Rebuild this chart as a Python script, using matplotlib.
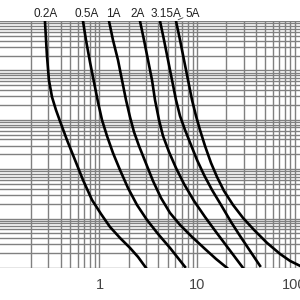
import numpy as np
import matplotlib
matplotlib.use("Agg")
import matplotlib.pyplot as plt
from matplotlib.ticker import LogLocator, FixedLocator, FixedFormatter, NullFormatter

# fuse time-current curves: current (A) vs pre-arcing time (s)
ratings = ["0.2A", "0.5A", "1A", "2A", "3.15A", "5A"]

current_02 = [0.276, 0.289, 0.303, 0.326, 0.358, 0.393, 0.464, 0.561, 0.677,
              0.838, 1.036, 1.281, 1.623, 2.055, 2.483, 3.0]
time_02    = [100, 20.5, 6.39, 2.89, 1.579, 0.946, 0.390, 0.1535, 0.0605,
              0.0238, 0.0124, 0.00676, 0.00405, 0.00254, 0.00167, 0.001]

current_05 = [0.677, 0.727, 0.799, 0.878, 0.965, 1.061, 1.194, 1.375, 1.623,
              1.960, 2.424, 3.069, 3.981, 5.286, 7.533]
time_05    = [100, 41.2, 14.8, 5.82, 2.29, 0.991, 0.470, 0.2128, 0.0963,
              0.0416, 0.01885, 0.00937, 0.00488, 0.00254, 0.00105]

current_1 = [1.252, 1.375, 1.548, 1.701, 1.870, 2.055, 2.259, 2.542, 2.929,
             3.538, 4.274, 5.286, 6.695, 8.887, 12.08, 15.66, 20.31]
time_1    = [100, 41.2, 16.2, 6.39, 2.52, 1.139, 0.566, 0.2948, 0.1466,
             0.0577, 0.0261, 0.01298, 0.00742, 0.00424, 0.00242, 0.00152, 0.001]

current_2 = [2.602, 2.860, 3.144, 3.456, 3.709, 4.077, 4.481, 5.163, 6.089,
             7.356, 9.317, 12.08, 15.66, 20.79, 29.64]
time_2    = [100, 41.2, 16.2, 6.39, 2.52, 0.991, 0.470, 0.2229, 0.1057,
             0.0502, 0.0227, 0.01077, 0.00535, 0.00254, 0.001]

current_315 = [4.174, 4.587, 5.042, 5.541, 6.089, 6.695, 7.533, 8.679, 10.0,
               11.80, 14.25, 17.63, 22.32, 27.61, 34.96, 44.28]
time_315    = [100, 41.2, 16.2, 6.39, 2.52, 1.194, 0.6217, 0.309, 0.1535,
               0.0763, 0.0379, 0.01885, 0.00853, 0.00444, 0.00221, 0.0011]

current_5 = [6.089, 6.695, 7.356, 8.087, 8.887, 9.766, 10.73, 12.08, 13.92,
             16.04, 18.92, 23.40, 29.64, 38.43, 52.23, 71.02, 89.91, 113.9]
time_5    = [100, 41.2, 16.2, 6.39, 2.52, 1.194, 0.6217, 0.2948, 0.1335,
             0.0695, 0.0362, 0.01885, 0.01028, 0.00588, 0.00321, 0.00192,
             0.001386, 0.0011]

curves = [(current_02, time_02), (current_05, time_05), (current_1, time_1),
          (current_2, time_2), (current_315, time_315), (current_5, time_5)]

label_x = [0.283, 0.745, 1.37, 2.48, 4.81, 9.1]

x_ticks = [1, 10, 100]
x_tick_labels = ["1", "10", "100"]

fig = plt.figure(figsize=(3, 3), dpi=100)
ax = fig.add_axes([0, 0.107, 1, 0.823])
ax.set_xscale("log")
ax.set_yscale("log")
ax.set_xlim(10 ** -1.02, 10 ** 2.056)
ax.set_ylim(0.001, 100)

ax.xaxis.set_major_locator(FixedLocator(x_ticks))
ax.xaxis.set_major_formatter(FixedFormatter(x_tick_labels))
ax.xaxis.set_minor_locator(LogLocator(base=10, subs=np.arange(2, 10), numticks=100))
ax.xaxis.set_minor_formatter(NullFormatter())
ax.yaxis.set_major_locator(LogLocator(base=10, numticks=100))
ax.yaxis.set_minor_locator(LogLocator(base=10, subs=np.arange(2, 10), numticks=100))
ax.yaxis.set_major_formatter(NullFormatter())
ax.yaxis.set_minor_formatter(NullFormatter())

ax.grid(which="both", color="#808080", lw=1.0)
ax.set_axisbelow(True)
for s in ax.spines.values():
    s.set_visible(False)
ax.tick_params(which="both", length=0)
ax.tick_params(axis="x", pad=7, labelsize=10.5, labelcolor="#444444")
for lab in ax.get_xticklabels():
    lab.set_family("Liberation Sans")

for x, y in curves:
    ax.plot(x, y, color="black", lw=1.9, solid_joinstyle="round")

trans = ax.get_xaxis_transform()
for name, lx in zip(ratings[:-1], label_x[:-1]):
    ax.text(lx, 1.03, name, transform=trans, ha="center", va="center",
            fontsize=8.5, family="Liberation Sans", color="#222222")
ax.annotate(ratings[-1], xy=(6.4, 1.005), xycoords=trans,
            xytext=(label_x[-1], 1.03), textcoords=trans,
            ha="center", va="center", fontsize=8.5, family="Liberation Sans",
            color="#222222",
            arrowprops=dict(arrowstyle="-", lw=0.6, color="#444444",
                            shrinkA=0, shrinkB=0))

fig.savefig("out.png", dpi=100)
